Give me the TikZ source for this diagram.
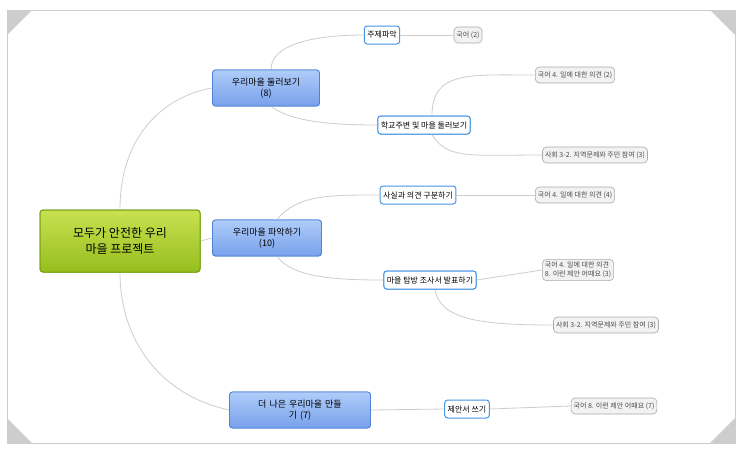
\documentclass[tikz,border=0pt]{standalone}
\usepackage{fontspec}
\setmainfont{Noto Sans CJK KR}
\usetikzlibrary{positioning}
\definecolor{lineg}{RGB}{205,205,205}
\definecolor{leafbd}{RGB}{170,170,170}
\definecolor{leafbg}{RGB}{242,242,242}
\definecolor{topicbd}{RGB}{80,130,215}
\definecolor{topictop}{RGB}{175,205,250}
\definecolor{topicbot}{RGB}{120,160,235}
\definecolor{subbd}{RGB}{70,150,230}
\definecolor{rootbd}{RGB}{120,160,20}
\definecolor{roottop}{RGB}{200,225,80}
\definecolor{rootbot}{RGB}{150,190,30}
\tikzset{
  rootbox/.style={draw=rootbd,line width=1pt,rounded corners=3pt,top color=roottop,bottom color=rootbot,
    minimum width=160pt,minimum height=62pt,align=center,font=\fontsize{12}{16}\selectfont},
  topic/.style={draw=topicbd,line width=0.8pt,rounded corners=3pt,top color=topictop,bottom color=topicbot,
    minimum height=36pt,align=center,font=\fontsize{9}{11}\selectfont,inner sep=2pt},
  subtopic/.style={draw=subbd,line width=1pt,rounded corners=3pt,fill=white,
    minimum height=18pt,font=\fontsize{8}{10}\selectfont,inner sep=3pt},
  leaf/.style={draw=leafbd,line width=0.6pt,rounded corners=4pt,fill=leafbg,text=black!70,
    minimum height=16pt,align=left,font=\fontsize{7}{9}\selectfont,inner sep=2.5pt},
  link/.style={draw=lineg,line width=0.8pt},
}
\begin{document}
\begin{tikzpicture}[x=1pt,y=-1pt]
\useasboundingbox (0,0) rectangle (743,451);
% frame
\draw[lineg,fill=white] (7,10) rectangle (735,443);
\fill[lineg] (7,10) -- (32,10) -- (7,35) -- cycle;
\fill[lineg] (735,10) -- (710,10) -- (735,35) -- cycle;
\fill[lineg] (7,443) -- (32,443) -- (7,418) -- cycle;
\fill[lineg] (735,443) -- (710,443) -- (735,418) -- cycle;
% nodes
\node[rootbox] (root) at (120,241) {모두가 안전한 우리\\마을 프로젝트};
\node[topic,minimum width=107pt] (look) at (266,88) {우리마을 둘러보기\\(8)};
\node[topic,minimum width=109pt] (know) at (267,238) {우리마을 파악하기\\(10)};
\node[topic,minimum width=141pt,text width=130pt] (make) at (300,410) {더 나은 우리마을 만들\\기 (7)};
\node[subtopic] (theme) at (382,35) {주제파악};
\node[subtopic] (school) at (424,125) {학교주변 및 마을 둘러보기};
\node[subtopic] (fact) at (418,195) {사실과 의견 구분하기};
\node[subtopic] (tour) at (430,280) {마을 탐방 조사서 발표하기};
\node[subtopic] (write) at (467,409) {제안서 쓰기};
\node[leaf] (l1) at (468,35) {국어 (2)};
\node[leaf] (l2) at (575,75) {국어 4. 일에 대한 의견 (2)};
\node[leaf] (l3) at (595,155) {사회 3-2. 지역문제와 주민 참여 (3)};
\node[leaf] (l4) at (575,195) {국어 4. 일에 대한 의견 (4)};
\node[leaf] (l5) at (578,270) {국어 4. 일에 대한 의견\\8. 이런 제안 어때요 (3)};
\node[leaf] (l6) at (606,325) {사회 3-2. 지역문제와 주민 참여 (3)};
\node[leaf] (l7) at (614,406) {국어 8. 이런 제안 어때요 (7)};
% links
\begin{scope}[on background layer/.style={}]
\path[link] (root.north) .. controls (120,130) and (170,95) .. (look.west);
\path[link] (root.east) -- (know.west);
\path[link] (root.south) .. controls (120,340) and (160,395) .. (make.west);
\path[link] (look.north) ++(5,0) .. controls +(0,-30) and (330,35) .. (theme.west);
\path[link] (look.south) ++(5,0) .. controls +(20,15) and (330,125) .. (school.west);
\path[link] (school.north) ++(8,0) .. controls +(0,-45) and (470,75) .. (l2.west);
\path[link] (school.south) ++(8,0) .. controls +(15,25) and (470,155) .. (l3.west);
\path[link] (know.north) ++(10,0) .. controls +(20,-25) and (330,195) .. (fact.west);
\path[link] (know.south) ++(10,0) .. controls +(15,20) and (330,280) .. (tour.west);
\path[link] (tour.south) ++(5,0) .. controls +(5,30) and (480,325) .. (l6.west);
\path[link] (theme.east) -- (l1.west);
\path[link] (fact.east) -- (l4.west);
\path[link] (tour.east) -- (l5.west);
\path[link] (make.east) -- (write.west);
\path[link] (write.east) -- (l7.west);
\end{scope}
% redraw nodes above links
\node[rootbox] at (root) {모두가 안전한 우리\\마을 프로젝트};
\node[topic,minimum width=107pt] at (look) {우리마을 둘러보기\\(8)};
\node[topic,minimum width=109pt] at (know) {우리마을 파악하기\\(10)};
\node[topic,minimum width=141pt,text width=130pt] at (make) {더 나은 우리마을 만들\\기 (7)};
\node[subtopic] at (school) {학교주변 및 마을 둘러보기};
\node[subtopic] at (tour) {마을 탐방 조사서 발표하기};
\end{tikzpicture}
\end{document}
